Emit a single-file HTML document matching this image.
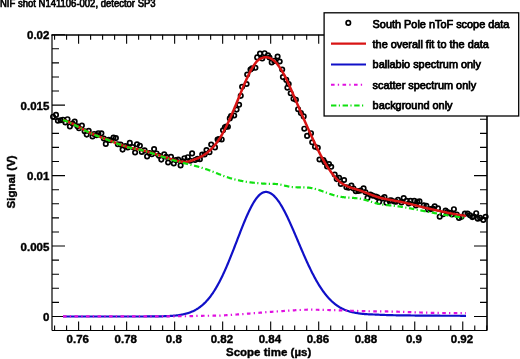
<!DOCTYPE html>
<html><head><meta charset="utf-8"><style>
html,body{margin:0;padding:0;background:#fff;}
svg{display:block;}
text{font-family:"Liberation Sans",Arial,sans-serif;}
</style></head><body>
<svg width="520" height="359" viewBox="0 0 520 359">
<rect width="520" height="359" fill="#fff"/>
<text x="0" y="7.0" font-size="10" textLength="155.6" lengthAdjust="spacingAndGlyphs" fill="#000" stroke="#000" stroke-width="0.65">NIF shot N141106-002, detector SP3</text>
<g fill="none" stroke="#000">
<path d="M52.0,34.8V330.5" stroke-width="1.2"/>
<path d="M52.0,330.5H487.0" stroke-width="1.1"/>
<path d="M487.0,330.5V34.8" stroke-width="1.6"/>
<path d="M51.4,35.0H487.8" stroke-width="1.45"/>
<path d="M54.59,330.5V325.5M54.59,34.8V39.8M66.59,330.5V325.5M66.59,34.8V39.8M78.60,330.5V321.5M78.60,34.8V43.8M90.61,330.5V325.5M90.61,34.8V39.8M102.61,330.5V325.5M102.61,34.8V39.8M114.62,330.5V325.5M114.62,34.8V39.8M126.62,330.5V321.5M126.62,34.8V43.8M138.63,330.5V325.5M138.63,34.8V39.8M150.63,330.5V325.5M150.63,34.8V39.8M162.64,330.5V325.5M162.64,34.8V39.8M174.64,330.5V321.5M174.64,34.8V43.8M186.65,330.5V325.5M186.65,34.8V39.8M198.65,330.5V325.5M198.65,34.8V39.8M210.65,330.5V325.5M210.65,34.8V39.8M222.66,330.5V321.5M222.66,34.8V43.8M234.66,330.5V325.5M234.66,34.8V39.8M246.67,330.5V325.5M246.67,34.8V39.8M258.67,330.5V325.5M258.67,34.8V39.8M270.68,330.5V321.5M270.68,34.8V43.8M282.68,330.5V325.5M282.68,34.8V39.8M294.69,330.5V325.5M294.69,34.8V39.8M306.69,330.5V325.5M306.69,34.8V39.8M318.70,330.5V321.5M318.70,34.8V43.8M330.70,330.5V325.5M330.70,34.8V39.8M342.71,330.5V325.5M342.71,34.8V39.8M354.71,330.5V325.5M354.71,34.8V39.8M366.72,330.5V321.5M366.72,34.8V43.8M378.73,330.5V325.5M378.73,34.8V39.8M390.73,330.5V325.5M390.73,34.8V39.8M402.74,330.5V325.5M402.74,34.8V39.8M414.74,330.5V321.5M414.74,34.8V43.8M426.75,330.5V325.5M426.75,34.8V39.8M438.75,330.5V325.5M438.75,34.8V39.8M450.76,330.5V325.5M450.76,34.8V39.8M462.76,330.5V321.5M462.76,34.8V43.8M474.77,330.5V325.5M474.77,34.8V39.8M486.77,330.5V325.5M486.77,34.8V39.8M52.0,316.50H65.0M487.0,316.50H474.0M52.0,302.41H59.0M487.0,302.41H480.0M52.0,288.32H59.0M487.0,288.32H480.0M52.0,274.23H59.0M487.0,274.23H480.0M52.0,260.14H59.0M487.0,260.14H480.0M52.0,246.05H65.0M487.0,246.05H474.0M52.0,231.96H59.0M487.0,231.96H480.0M52.0,217.87H59.0M487.0,217.87H480.0M52.0,203.78H59.0M487.0,203.78H480.0M52.0,189.69H59.0M487.0,189.69H480.0M52.0,175.60H65.0M487.0,175.60H474.0M52.0,161.51H59.0M487.0,161.51H480.0M52.0,147.42H59.0M487.0,147.42H480.0M52.0,133.33H59.0M487.0,133.33H480.0M52.0,119.24H59.0M487.0,119.24H480.0M52.0,105.15H65.0M487.0,105.15H474.0M52.0,91.06H59.0M487.0,91.06H480.0M52.0,76.97H59.0M487.0,76.97H480.0M52.0,62.88H59.0M487.0,62.88H480.0M52.0,48.79H59.0M487.0,48.79H480.0M52.0,34.70H65.0M487.0,34.70H474.0" stroke-width="1.1"/>
</g>
<g font-size="11.5" font-weight="bold" fill="#000" stroke="#000" stroke-width="0.4"><text x="77.80" y="342.7" text-anchor="middle">0.76</text><text x="125.82" y="342.7" text-anchor="middle">0.78</text><text x="173.84" y="342.7" text-anchor="middle">0.8</text><text x="221.86" y="342.7" text-anchor="middle">0.82</text><text x="269.88" y="342.7" text-anchor="middle">0.84</text><text x="317.90" y="342.7" text-anchor="middle">0.86</text><text x="365.92" y="342.7" text-anchor="middle">0.88</text><text x="413.94" y="342.7" text-anchor="middle">0.9</text><text x="461.96" y="342.7" text-anchor="middle">0.92</text><text x="49.4" y="321.00" text-anchor="end">0</text><text x="49.4" y="250.55" text-anchor="end">0.005</text><text x="49.4" y="180.10" text-anchor="end">0.01</text><text x="49.4" y="109.65" text-anchor="end">0.015</text><text x="49.4" y="39.20" text-anchor="end">0.02</text>
<text x="226" y="355.7">Scope time (µs)</text>
<text transform="translate(15.2,208.4) rotate(-90)">Signal (V)</text>
</g>
<g fill="none" stroke="#000" stroke-width="1.7"><circle cx="53.10" cy="116.70" r="2.2"/><circle cx="56.00" cy="114.90" r="2.2"/><circle cx="57.90" cy="120.70" r="2.2"/><circle cx="60.58" cy="120.26" r="2.2"/><circle cx="62.98" cy="119.72" r="2.2"/><circle cx="65.39" cy="122.40" r="2.2"/><circle cx="67.50" cy="119.20" r="2.2"/><circle cx="69.90" cy="126.40" r="2.2"/><circle cx="72.59" cy="123.60" r="2.2"/><circle cx="74.70" cy="121.60" r="2.2"/><circle cx="77.39" cy="126.32" r="2.2"/><circle cx="79.00" cy="128.30" r="2.2"/><circle cx="81.90" cy="125.50" r="2.2"/><circle cx="84.59" cy="131.21" r="2.2"/><circle cx="86.70" cy="134.60" r="2.2"/><circle cx="88.70" cy="130.80" r="2.2"/><circle cx="92.50" cy="136.50" r="2.2"/><circle cx="94.20" cy="133.96" r="2.2"/><circle cx="96.60" cy="135.15" r="2.2"/><circle cx="98.30" cy="133.20" r="2.2"/><circle cx="101.40" cy="133.30" r="2.2"/><circle cx="103.80" cy="138.43" r="2.2"/><circle cx="105.80" cy="143.90" r="2.2"/><circle cx="108.60" cy="139.88" r="2.2"/><circle cx="111.00" cy="140.21" r="2.2"/><circle cx="113.50" cy="137.60" r="2.2"/><circle cx="115.90" cy="138.10" r="2.2"/><circle cx="117.80" cy="144.30" r="2.2"/><circle cx="120.61" cy="144.58" r="2.2"/><circle cx="122.60" cy="149.60" r="2.2"/><circle cx="125.41" cy="146.10" r="2.2"/><circle cx="127.81" cy="147.49" r="2.2"/><circle cx="129.80" cy="142.90" r="2.2"/><circle cx="132.61" cy="147.08" r="2.2"/><circle cx="135.10" cy="152.50" r="2.2"/><circle cx="137.00" cy="144.30" r="2.2"/><circle cx="139.90" cy="145.80" r="2.2"/><circle cx="141.80" cy="152.00" r="2.2"/><circle cx="144.62" cy="150.36" r="2.2"/><circle cx="147.10" cy="156.40" r="2.2"/><circle cx="149.42" cy="153.06" r="2.2"/><circle cx="151.82" cy="154.30" r="2.2"/><circle cx="154.10" cy="149.10" r="2.2"/><circle cx="156.62" cy="153.47" r="2.2"/><circle cx="159.02" cy="155.75" r="2.2"/><circle cx="161.30" cy="159.60" r="2.2"/><circle cx="164.20" cy="154.30" r="2.2"/><circle cx="166.23" cy="156.81" r="2.2"/><circle cx="168.10" cy="162.50" r="2.2"/><circle cx="171.00" cy="156.80" r="2.2"/><circle cx="173.80" cy="163.50" r="2.2"/><circle cx="175.83" cy="159.94" r="2.2"/><circle cx="178.20" cy="159.60" r="2.2"/><circle cx="180.60" cy="165.40" r="2.2"/><circle cx="183.03" cy="161.22" r="2.2"/><circle cx="184.40" cy="158.20" r="2.2"/><circle cx="187.80" cy="157.20" r="2.2"/><circle cx="190.24" cy="160.73" r="2.2"/><circle cx="192.10" cy="153.40" r="2.2"/><circle cx="195.04" cy="159.94" r="2.2"/><circle cx="197.44" cy="158.84" r="2.2"/><circle cx="199.90" cy="159.20" r="2.2"/><circle cx="202.20" cy="154.50" r="2.2"/><circle cx="204.64" cy="154.52" r="2.2"/><circle cx="206.50" cy="150.00" r="2.2"/><circle cx="209.50" cy="152.20" r="2.2"/><circle cx="211.20" cy="144.50" r="2.2"/><circle cx="215.00" cy="147.40" r="2.2"/><circle cx="217.60" cy="139.60" r="2.2"/><circle cx="219.05" cy="139.08" r="2.2"/><circle cx="221.70" cy="139.50" r="2.2"/><circle cx="223.00" cy="130.30" r="2.2"/><circle cx="224.90" cy="127.20" r="2.2"/><circle cx="226.25" cy="126.50" r="2.2"/><circle cx="227.90" cy="126.70" r="2.2"/><circle cx="229.80" cy="118.40" r="2.2"/><circle cx="231.05" cy="116.03" r="2.2"/><circle cx="234.20" cy="115.50" r="2.2"/><circle cx="236.60" cy="109.60" r="2.2"/><circle cx="239.10" cy="104.80" r="2.2"/><circle cx="240.75" cy="95.85" r="2.2"/><circle cx="242.10" cy="86.80" r="2.2"/><circle cx="246.60" cy="84.00" r="2.2"/><circle cx="247.20" cy="74.50" r="2.2"/><circle cx="250.50" cy="69.50" r="2.2"/><circle cx="252.10" cy="68.20" r="2.2"/><circle cx="255.40" cy="67.80" r="2.2"/><circle cx="257.10" cy="57.40" r="2.2"/><circle cx="260.00" cy="53.60" r="2.2"/><circle cx="262.27" cy="58.53" r="2.2"/><circle cx="264.60" cy="53.20" r="2.2"/><circle cx="268.00" cy="55.30" r="2.2"/><circle cx="269.47" cy="57.48" r="2.2"/><circle cx="271.70" cy="62.40" r="2.2"/><circle cx="274.27" cy="60.90" r="2.2"/><circle cx="277.60" cy="56.50" r="2.2"/><circle cx="279.70" cy="61.50" r="2.2"/><circle cx="282.20" cy="69.50" r="2.2"/><circle cx="282.90" cy="77.10" r="2.2"/><circle cx="286.30" cy="79.90" r="2.2"/><circle cx="287.40" cy="87.70" r="2.2"/><circle cx="288.68" cy="84.05" r="2.2"/><circle cx="290.70" cy="93.30" r="2.2"/><circle cx="293.50" cy="98.80" r="2.2"/><circle cx="295.90" cy="99.70" r="2.2"/><circle cx="298.10" cy="109.20" r="2.2"/><circle cx="300.90" cy="113.10" r="2.2"/><circle cx="303.70" cy="116.40" r="2.2"/><circle cx="304.30" cy="128.70" r="2.2"/><circle cx="307.10" cy="135.90" r="2.2"/><circle cx="311.00" cy="133.20" r="2.2"/><circle cx="312.20" cy="142.30" r="2.2"/><circle cx="315.00" cy="146.70" r="2.2"/><circle cx="317.80" cy="147.80" r="2.2"/><circle cx="319.50" cy="159.50" r="2.2"/><circle cx="323.40" cy="160.10" r="2.2"/><circle cx="324.69" cy="162.29" r="2.2"/><circle cx="327.09" cy="166.41" r="2.2"/><circle cx="329.00" cy="164.00" r="2.2"/><circle cx="331.20" cy="166.80" r="2.2"/><circle cx="334.70" cy="174.50" r="2.2"/><circle cx="336.70" cy="179.08" r="2.2"/><circle cx="339.10" cy="177.80" r="2.2"/><circle cx="340.80" cy="184.00" r="2.2"/><circle cx="344.10" cy="180.00" r="2.2"/><circle cx="346.40" cy="187.30" r="2.2"/><circle cx="348.70" cy="187.81" r="2.2"/><circle cx="351.40" cy="185.60" r="2.2"/><circle cx="353.50" cy="188.45" r="2.2"/><circle cx="355.80" cy="191.20" r="2.2"/><circle cx="358.31" cy="191.06" r="2.2"/><circle cx="360.71" cy="190.52" r="2.2"/><circle cx="363.60" cy="188.40" r="2.2"/><circle cx="365.51" cy="192.20" r="2.2"/><circle cx="367.50" cy="197.90" r="2.2"/><circle cx="370.31" cy="194.50" r="2.2"/><circle cx="372.50" cy="195.60" r="2.2"/><circle cx="375.80" cy="196.50" r="2.2"/><circle cx="377.51" cy="197.24" r="2.2"/><circle cx="379.20" cy="201.80" r="2.2"/><circle cx="382.32" cy="198.49" r="2.2"/><circle cx="384.50" cy="197.00" r="2.2"/><circle cx="386.40" cy="202.80" r="2.2"/><circle cx="389.52" cy="200.67" r="2.2"/><circle cx="391.20" cy="200.40" r="2.2"/><circle cx="394.32" cy="201.49" r="2.2"/><circle cx="396.00" cy="201.80" r="2.2"/><circle cx="398.00" cy="199.90" r="2.2"/><circle cx="401.52" cy="202.41" r="2.2"/><circle cx="403.70" cy="198.00" r="2.2"/><circle cx="406.60" cy="200.90" r="2.2"/><circle cx="408.73" cy="203.43" r="2.2"/><circle cx="410.50" cy="200.90" r="2.2"/><circle cx="414.30" cy="200.90" r="2.2"/><circle cx="415.93" cy="205.39" r="2.2"/><circle cx="417.20" cy="201.80" r="2.2"/><circle cx="419.50" cy="201.30" r="2.2"/><circle cx="423.80" cy="205.40" r="2.2"/><circle cx="426.40" cy="205.90" r="2.2"/><circle cx="427.94" cy="209.43" r="2.2"/><circle cx="430.34" cy="209.15" r="2.2"/><circle cx="432.74" cy="208.60" r="2.2"/><circle cx="434.70" cy="206.30" r="2.2"/><circle cx="438.00" cy="208.40" r="2.2"/><circle cx="439.70" cy="216.70" r="2.2"/><circle cx="443.10" cy="214.20" r="2.2"/><circle cx="445.60" cy="210.50" r="2.2"/><circle cx="447.14" cy="212.16" r="2.2"/><circle cx="449.54" cy="212.73" r="2.2"/><circle cx="451.95" cy="214.42" r="2.2"/><circle cx="453.90" cy="209.20" r="2.2"/><circle cx="456.75" cy="214.43" r="2.2"/><circle cx="459.00" cy="217.90" r="2.2"/><circle cx="461.55" cy="216.87" r="2.2"/><circle cx="464.90" cy="213.60" r="2.2"/><circle cx="467.60" cy="213.60" r="2.2"/><circle cx="470.00" cy="215.20" r="2.2"/><circle cx="472.30" cy="217.10" r="2.2"/><circle cx="473.55" cy="216.47" r="2.2"/><circle cx="476.20" cy="213.20" r="2.2"/><circle cx="477.80" cy="218.70" r="2.2"/><circle cx="480.10" cy="217.90" r="2.2"/><circle cx="483.30" cy="219.90" r="2.2"/><circle cx="485.60" cy="216.80" r="2.2"/></g>
<g fill="none" stroke-width="2.2" stroke-linejoin="round">
<path d="M63.00,119.95 L63.50,120.09 L64.00,120.25 L64.50,120.40 L65.00,120.57 L65.50,120.74 L66.00,120.92 L66.50,121.11 L67.00,121.30 L67.50,121.50 L68.00,121.70 L68.50,121.91 L69.00,122.12 L69.50,122.34 L70.00,122.56 L70.50,122.79 L71.00,123.02 L71.50,123.25 L72.00,123.49 L72.50,123.73 L73.00,123.98 L73.50,124.23 L74.00,124.48 L74.50,124.73 L75.00,124.99 L75.50,125.25 L76.00,125.51 L76.50,125.77 L77.00,126.04 L77.50,126.31 L78.00,126.57 L78.50,126.84 L79.00,127.11 L79.50,127.38 L80.00,127.65 L80.50,127.92 L81.00,128.19 L81.50,128.46 L82.00,128.73 L82.50,128.99 L83.00,129.26 L83.50,129.53 L84.00,129.79 L84.50,130.05 L85.00,130.31 L85.50,130.57 L86.00,130.83 L86.50,131.08 L87.00,131.33 L87.50,131.58 L88.00,131.83 L88.50,132.07 L89.00,132.31 L89.50,132.54 L90.00,132.77 L90.50,133.00 L91.00,133.22 L91.50,133.44 L92.00,133.66 L92.50,133.88 L93.00,134.09 L93.50,134.30 L94.00,134.51 L94.50,134.72 L95.00,134.92 L95.50,135.12 L96.00,135.32 L96.50,135.52 L97.00,135.72 L97.50,135.92 L98.00,136.11 L98.50,136.30 L99.00,136.49 L99.50,136.68 L100.00,136.87 L100.50,137.06 L101.00,137.25 L101.50,137.44 L102.00,137.63 L102.50,137.81 L103.00,138.00 L103.50,138.19 L104.00,138.37 L104.50,138.56 L105.00,138.75 L105.50,138.93 L106.00,139.12 L106.50,139.31 L107.00,139.50 L107.50,139.69 L108.00,139.88 L108.50,140.08 L109.00,140.27 L109.50,140.46 L110.00,140.66 L110.50,140.85 L111.00,141.05 L111.50,141.24 L112.00,141.44 L112.50,141.64 L113.00,141.83 L113.50,142.03 L114.00,142.22 L114.50,142.42 L115.00,142.61 L115.50,142.81 L116.00,143.00 L116.50,143.19 L117.00,143.38 L117.50,143.57 L118.00,143.76 L118.50,143.95 L119.00,144.13 L119.50,144.32 L120.00,144.50 L120.50,144.68 L121.00,144.86 L121.50,145.04 L122.00,145.22 L122.50,145.39 L123.00,145.56 L123.50,145.73 L124.00,145.90 L124.50,146.06 L125.00,146.22 L125.50,146.38 L126.00,146.53 L126.50,146.68 L127.00,146.83 L127.50,146.98 L128.00,147.12 L128.50,147.26 L129.00,147.39 L129.50,147.52 L130.00,147.65 L130.50,147.77 L131.00,147.89 L131.50,148.01 L132.00,148.12 L132.50,148.22 L133.00,148.33 L133.50,148.43 L134.00,148.53 L134.50,148.62 L135.00,148.72 L135.50,148.81 L136.00,148.91 L136.50,149.00 L137.00,149.10 L137.50,149.19 L138.00,149.29 L138.50,149.39 L139.00,149.49 L139.50,149.60 L140.00,149.71 L140.50,149.82 L141.00,149.93 L141.50,150.05 L142.00,150.17 L142.50,150.30 L143.00,150.42 L143.50,150.55 L144.00,150.68 L144.50,150.82 L145.00,150.96 L145.50,151.09 L146.00,151.24 L146.50,151.38 L147.00,151.53 L147.50,151.67 L148.00,151.82 L148.50,151.97 L149.00,152.13 L149.50,152.28 L150.00,152.43 L150.50,152.59 L151.00,152.74 L151.50,152.90 L152.00,153.06 L152.50,153.22 L153.00,153.38 L153.50,153.53 L154.00,153.69 L154.50,153.85 L155.00,154.01 L155.50,154.17 L156.00,154.33 L156.50,154.49 L157.00,154.65 L157.50,154.81 L158.00,154.97 L158.50,155.13 L159.00,155.29 L159.50,155.45 L160.00,155.61 L160.50,155.76 L161.00,155.92 L161.50,156.08 L162.00,156.23 L162.50,156.38 L163.00,156.54 L163.50,156.69 L164.00,156.84 L164.50,156.99 L165.00,157.14 L165.50,157.28 L166.00,157.43 L166.50,157.57 L167.00,157.71 L167.50,157.85 L168.00,157.99 L168.50,158.17 L169.00,158.35 L169.50,158.53 L170.00,158.71 L170.50,158.88 L171.00,159.06 L171.50,159.22 L172.00,159.39 L172.50,159.55 L173.00,159.71 L173.50,159.87 L174.00,160.02 L174.50,160.17 L175.00,160.31 L175.50,160.45 L176.00,160.59 L176.50,160.72 L177.00,160.85 L177.50,160.97 L178.00,161.09 L178.50,161.18 L179.00,161.27 L179.50,161.36 L180.00,161.44 L180.50,161.52 L181.00,161.59 L181.50,161.66 L182.00,161.72 L182.50,161.77 L183.00,161.83 L183.50,161.87 L184.00,161.91 L184.50,161.95 L185.00,161.98 L185.50,162.01 L186.00,162.02 L186.50,161.93 L187.00,161.84 L187.50,161.73 L188.00,161.62 L188.50,161.50 L189.00,161.37 L189.50,161.24 L190.00,161.09 L190.50,160.94 L191.00,160.79 L191.50,160.62 L192.00,160.45 L192.50,160.27 L193.00,160.08 L193.50,159.89 L194.00,159.69 L194.50,159.48 L195.00,159.26 L195.50,159.09 L196.00,158.91 L196.50,158.72 L197.00,158.52 L197.50,158.32 L198.00,158.11 L198.50,157.89 L199.00,157.67 L199.50,157.43 L200.00,157.19 L200.50,156.94 L201.00,156.68 L201.50,156.41 L202.00,156.14 L202.50,155.85 L203.00,155.55 L203.50,155.23 L204.00,154.91 L204.50,154.58 L205.00,154.23 L205.50,153.89 L206.00,153.54 L206.50,153.17 L207.00,152.79 L207.50,152.40 L208.00,151.99 L208.50,151.58 L209.00,151.15 L209.50,150.70 L210.00,150.24 L210.50,149.77 L211.00,149.29 L211.50,148.79 L212.00,148.28 L212.50,147.75 L213.00,147.21 L213.50,146.65 L214.00,146.08 L214.50,145.49 L215.00,144.88 L215.50,144.26 L216.00,143.63 L216.50,142.97 L217.00,142.30 L217.50,141.60 L218.00,140.89 L218.50,140.16 L219.00,139.41 L219.50,138.64 L220.00,137.86 L220.50,137.05 L221.00,136.23 L221.50,135.39 L222.00,134.53 L222.50,133.65 L223.00,132.75 L223.50,131.84 L224.00,130.91 L224.50,129.96 L225.00,128.99 L225.50,128.00 L226.00,127.00 L226.50,125.99 L227.00,124.96 L227.50,123.91 L228.00,122.85 L228.50,121.78 L229.00,120.69 L229.50,119.59 L230.00,118.48 L230.50,117.36 L231.00,116.22 L231.50,115.08 L232.00,113.93 L232.50,112.76 L233.00,111.59 L233.50,110.41 L234.00,109.22 L234.50,108.02 L235.00,106.82 L235.50,105.61 L236.00,104.40 L236.50,103.18 L237.00,101.96 L237.50,100.74 L238.00,99.52 L238.50,98.29 L239.00,97.07 L239.50,95.84 L240.00,94.62 L240.50,93.41 L241.00,92.19 L241.50,90.98 L242.00,89.78 L242.50,88.58 L243.00,87.39 L243.50,86.21 L244.00,85.04 L244.50,83.87 L245.00,82.72 L245.50,81.58 L246.00,80.46 L246.50,79.35 L247.00,78.25 L247.50,77.17 L248.00,76.10 L248.50,75.05 L249.00,74.02 L249.50,73.01 L250.00,72.02 L250.50,71.08 L251.00,70.17 L251.50,69.28 L252.00,68.41 L252.50,67.56 L253.00,66.74 L253.50,65.95 L254.00,65.18 L254.50,64.44 L255.00,63.72 L255.50,63.04 L256.00,62.38 L256.50,61.76 L257.00,61.16 L257.50,60.71 L258.00,60.29 L258.50,59.90 L259.00,59.54 L259.50,59.22 L260.00,58.93 L260.50,58.67 L261.00,58.45 L261.50,58.26 L262.00,58.10 L262.50,57.86 L263.00,57.66 L263.50,57.49 L264.00,57.35 L264.50,57.25 L265.00,57.19 L265.50,57.16 L266.00,57.16 L266.50,57.20 L267.00,57.27 L267.50,57.36 L268.00,57.49 L268.50,57.61 L269.00,57.76 L269.50,57.93 L270.00,58.14 L270.50,58.38 L271.00,58.65 L271.50,58.94 L272.00,59.27 L272.50,59.57 L273.00,59.91 L273.50,60.27 L274.00,60.67 L274.50,61.10 L275.00,61.56 L275.50,62.06 L276.00,62.58 L276.50,63.14 L277.00,63.74 L277.50,64.37 L278.00,65.02 L278.50,65.71 L279.00,66.43 L279.50,67.18 L280.00,67.95 L280.50,68.69 L281.00,69.46 L281.50,70.25 L282.00,71.07 L282.50,71.91 L283.00,72.76 L283.50,73.64 L284.00,74.54 L284.50,75.46 L285.00,76.39 L285.50,77.40 L286.00,78.43 L286.50,79.47 L287.00,80.52 L287.50,81.58 L288.00,82.65 L288.50,83.74 L289.00,84.83 L289.50,85.92 L290.00,87.03 L290.50,88.18 L291.00,89.34 L291.50,90.50 L292.00,91.66 L292.50,92.82 L293.00,93.98 L293.50,95.15 L294.00,96.31 L294.50,97.47 L295.00,98.64 L295.50,99.80 L296.00,100.96 L296.50,102.12 L297.00,103.28 L297.50,104.44 L298.00,105.60 L298.50,106.76 L299.00,107.92 L299.50,109.08 L300.00,110.23 L300.50,111.39 L301.00,112.54 L301.50,113.69 L302.00,114.83 L302.50,115.97 L303.00,117.11 L303.50,118.25 L304.00,119.39 L304.50,120.52 L305.00,121.65 L305.50,122.78 L306.00,123.91 L306.50,125.04 L307.00,126.16 L307.50,127.28 L308.00,128.41 L308.50,129.53 L309.00,130.65 L309.50,131.76 L310.00,132.88 L310.50,133.98 L311.00,135.09 L311.50,136.19 L312.00,137.28 L312.50,138.37 L313.00,139.46 L313.50,140.53 L314.00,141.61 L314.50,142.67 L315.00,143.73 L315.50,144.79 L316.00,145.83 L316.50,146.87 L317.00,147.89 L317.50,148.91 L318.00,149.92 L318.50,150.92 L319.00,151.91 L319.50,152.89 L320.00,153.86 L320.50,154.81 L321.00,155.74 L321.50,156.67 L322.00,157.59 L322.50,158.49 L323.00,159.39 L323.50,160.27 L324.00,161.14 L324.50,162.00 L325.00,162.84 L325.50,163.67 L326.00,164.49 L326.50,165.30 L327.00,166.09 L327.50,166.87 L328.00,167.63 L328.50,168.38 L329.00,169.12 L329.50,169.84 L330.00,170.55 L330.50,171.27 L331.00,171.97 L331.50,172.66 L332.00,173.34 L332.50,174.00 L333.00,174.64 L333.50,175.27 L334.00,175.89 L334.50,176.49 L335.00,177.07 L335.50,177.64 L336.00,178.20 L336.50,178.73 L337.00,179.26 L337.50,179.77 L338.00,180.26 L338.50,180.73 L339.00,181.19 L339.50,181.64 L340.00,182.07 L340.50,182.44 L341.00,182.80 L341.50,183.15 L342.00,183.48 L342.50,183.80 L343.00,184.10 L343.50,184.40 L344.00,184.68 L344.50,184.96 L345.00,185.22 L345.50,185.47 L346.00,185.71 L346.50,185.95 L347.00,186.17 L347.50,186.39 L348.00,186.59 L348.50,186.80 L349.00,186.99 L349.50,187.18 L350.00,187.36 L350.50,187.54 L351.00,187.71 L351.50,187.88 L352.00,188.04 L352.50,188.20 L353.00,188.35 L353.50,188.50 L354.00,188.65 L354.50,188.80 L355.00,188.95 L355.50,189.10 L356.00,189.26 L356.50,189.41 L357.00,189.56 L357.50,189.72 L358.00,189.87 L358.50,190.02 L359.00,190.18 L359.50,190.33 L360.00,190.49 L360.50,190.66 L361.00,190.84 L361.50,191.02 L362.00,191.20 L362.50,191.38 L363.00,191.56 L363.50,191.75 L364.00,191.94 L364.50,192.14 L365.00,192.33 L365.50,192.53 L366.00,192.72 L366.50,192.92 L367.00,193.12 L367.50,193.32 L368.00,193.52 L368.50,193.72 L369.00,193.92 L369.50,194.11 L370.00,194.31 L370.50,194.50 L371.00,194.70 L371.50,194.89 L372.00,195.07 L372.50,195.26 L373.00,195.44 L373.50,195.62 L374.00,195.79 L374.50,195.97 L375.00,196.13 L375.50,196.31 L376.00,196.49 L376.50,196.66 L377.00,196.83 L377.50,196.99 L378.00,197.14 L378.50,197.29 L379.00,197.43 L379.50,197.56 L380.00,197.69 L380.50,197.83 L381.00,197.97 L381.50,198.10 L382.00,198.22 L382.50,198.34 L383.00,198.46 L383.50,198.57 L384.00,198.68 L384.50,198.79 L385.00,198.90 L385.50,199.00 L386.00,199.10 L386.50,199.20 L387.00,199.29 L387.50,199.39 L388.00,199.48 L388.50,199.57 L389.00,199.67 L389.50,199.76 L390.00,199.85 L390.50,199.94 L391.00,200.04 L391.50,200.13 L392.00,200.23 L392.50,200.32 L393.00,200.42 L393.50,200.52 L394.00,200.62 L394.50,200.73 L395.00,200.83 L395.50,200.92 L396.00,201.00 L396.50,201.09 L397.00,201.18 L397.50,201.27 L398.00,201.36 L398.50,201.46 L399.00,201.56 L399.50,201.65 L400.00,201.75 L400.50,201.85 L401.00,201.96 L401.50,202.06 L402.00,202.16 L402.50,202.27 L403.00,202.38 L403.50,202.49 L404.00,202.59 L404.50,202.71 L405.00,202.82 L405.50,202.93 L406.00,203.04 L406.50,203.15 L407.00,203.27 L407.50,203.38 L408.00,203.50 L408.50,203.61 L409.00,203.73 L409.50,203.84 L410.00,203.96 L410.50,204.08 L411.00,204.21 L411.50,204.33 L412.00,204.46 L412.50,204.59 L413.00,204.71 L413.50,204.84 L414.00,204.97 L414.50,205.10 L415.00,205.22 L415.50,205.35 L416.00,205.48 L416.50,205.61 L417.00,205.74 L417.50,205.86 L418.00,205.99 L418.50,206.12 L419.00,206.24 L419.50,206.37 L420.00,206.50 L420.50,206.62 L421.00,206.75 L421.50,206.88 L422.00,207.00 L422.50,207.13 L423.00,207.25 L423.50,207.37 L424.00,207.50 L424.50,207.62 L425.00,207.74 L425.50,207.86 L426.00,207.98 L426.50,208.10 L427.00,208.22 L427.50,208.34 L428.00,208.45 L428.50,208.57 L429.00,208.68 L429.50,208.80 L430.00,208.92 L430.50,209.03 L431.00,209.14 L431.50,209.25 L432.00,209.36 L432.50,209.47 L433.00,209.58 L433.50,209.69 L434.00,209.80 L434.50,209.91 L435.00,210.01 L435.50,210.12 L436.00,210.23 L436.50,210.34 L437.00,210.44 L437.50,210.55 L438.00,210.65 L438.50,210.76 L439.00,210.86 L439.50,210.96 L440.00,211.07 L440.50,211.18 L441.00,211.30 L441.50,211.41 L442.00,211.52 L442.50,211.64 L443.00,211.75 L443.50,211.86 L444.00,211.97 L444.50,212.08 L445.00,212.18 L445.50,212.29 L446.00,212.40 L446.50,212.50 L447.00,212.61 L447.50,212.71 L448.00,212.82 L448.50,212.92 L449.00,213.02 L449.50,213.12 L450.00,213.22 L450.50,213.32 L451.00,213.43 L451.50,213.52 L452.00,213.62 L452.50,213.72 L453.00,213.82 L453.50,213.92 L454.00,214.02 L454.50,214.11 L455.00,214.21 L455.50,214.29 L456.00,214.38 L456.50,214.47 L457.00,214.55 L457.50,214.63 L458.00,214.72 L458.50,214.80 L459.00,214.88 L459.50,214.96 L460.00,215.05 L460.50,215.13 L461.00,215.20 L461.50,215.28 L462.00,215.36 L462.50,215.44 L463.00,215.51 L463.50,215.59 L464.00,215.67 L464.50,215.74 L465.00,215.81 L465.50,215.89 L466.00,215.96" stroke="#d81414" stroke-width="2.5"/>
<path d="M63.00,316.50 L63.50,316.50 L64.00,316.50 L64.50,316.50 L65.00,316.50 L65.50,316.50 L66.00,316.50 L66.50,316.50 L67.00,316.50 L67.50,316.50 L68.00,316.50 L68.50,316.50 L69.00,316.50 L69.50,316.50 L70.00,316.50 L70.50,316.50 L71.00,316.50 L71.50,316.50 L72.00,316.50 L72.50,316.50 L73.00,316.50 L73.50,316.50 L74.00,316.50 L74.50,316.50 L75.00,316.50 L75.50,316.50 L76.00,316.50 L76.50,316.50 L77.00,316.50 L77.50,316.50 L78.00,316.50 L78.50,316.50 L79.00,316.50 L79.50,316.50 L80.00,316.50 L80.50,316.50 L81.00,316.50 L81.50,316.50 L82.00,316.50 L82.50,316.50 L83.00,316.50 L83.50,316.50 L84.00,316.50 L84.50,316.50 L85.00,316.50 L85.50,316.50 L86.00,316.50 L86.50,316.50 L87.00,316.50 L87.50,316.50 L88.00,316.50 L88.50,316.50 L89.00,316.50 L89.50,316.50 L90.00,316.50 L90.50,316.50 L91.00,316.50 L91.50,316.50 L92.00,316.50 L92.50,316.50 L93.00,316.50 L93.50,316.50 L94.00,316.50 L94.50,316.50 L95.00,316.50 L95.50,316.50 L96.00,316.50 L96.50,316.50 L97.00,316.50 L97.50,316.50 L98.00,316.50 L98.50,316.50 L99.00,316.50 L99.50,316.50 L100.00,316.50 L100.50,316.50 L101.00,316.50 L101.50,316.50 L102.00,316.50 L102.50,316.50 L103.00,316.50 L103.50,316.50 L104.00,316.50 L104.50,316.50 L105.00,316.50 L105.50,316.50 L106.00,316.50 L106.50,316.50 L107.00,316.50 L107.50,316.50 L108.00,316.50 L108.50,316.50 L109.00,316.50 L109.50,316.50 L110.00,316.50 L110.50,316.50 L111.00,316.50 L111.50,316.50 L112.00,316.50 L112.50,316.50 L113.00,316.50 L113.50,316.50 L114.00,316.50 L114.50,316.50 L115.00,316.50 L115.50,316.50 L116.00,316.50 L116.50,316.50 L117.00,316.50 L117.50,316.50 L118.00,316.50 L118.50,316.50 L119.00,316.50 L119.50,316.50 L120.00,316.50 L120.50,316.50 L121.00,316.50 L121.50,316.50 L122.00,316.50 L122.50,316.50 L123.00,316.50 L123.50,316.50 L124.00,316.50 L124.50,316.50 L125.00,316.50 L125.50,316.50 L126.00,316.50 L126.50,316.50 L127.00,316.50 L127.50,316.50 L128.00,316.50 L128.50,316.50 L129.00,316.50 L129.50,316.50 L130.00,316.50 L130.50,316.50 L131.00,316.50 L131.50,316.50 L132.00,316.50 L132.50,316.50 L133.00,316.50 L133.50,316.50 L134.00,316.50 L134.50,316.50 L135.00,316.50 L135.50,316.49 L136.00,316.49 L136.50,316.49 L137.00,316.49 L137.50,316.49 L138.00,316.49 L138.50,316.49 L139.00,316.49 L139.50,316.49 L140.00,316.49 L140.50,316.49 L141.00,316.49 L141.50,316.49 L142.00,316.49 L142.50,316.49 L143.00,316.48 L143.50,316.48 L144.00,316.48 L144.50,316.48 L145.00,316.48 L145.50,316.48 L146.00,316.48 L146.50,316.47 L147.00,316.47 L147.50,316.47 L148.00,316.47 L148.50,316.46 L149.00,316.46 L149.50,316.46 L150.00,316.46 L150.50,316.45 L151.00,316.45 L151.50,316.45 L152.00,316.44 L152.50,316.44 L153.00,316.44 L153.50,316.43 L154.00,316.43 L154.50,316.42 L155.00,316.42 L155.50,316.41 L156.00,316.40 L156.50,316.40 L157.00,316.39 L157.50,316.38 L158.00,316.37 L158.50,316.37 L159.00,316.36 L159.50,316.35 L160.00,316.34 L160.50,316.33 L161.00,316.32 L161.50,316.31 L162.00,316.29 L162.50,316.28 L163.00,316.27 L163.50,316.25 L164.00,316.24 L164.50,316.22 L165.00,316.20 L165.50,316.18 L166.00,316.16 L166.50,316.14 L167.00,316.12 L167.50,316.10 L168.00,316.08 L168.50,316.05 L169.00,316.02 L169.50,316.00 L170.00,315.97 L170.50,315.94 L171.00,315.90 L171.50,315.87 L172.00,315.83 L172.50,315.79 L173.00,315.75 L173.50,315.71 L174.00,315.67 L174.50,315.62 L175.00,315.57 L175.50,315.52 L176.00,315.47 L176.50,315.41 L177.00,315.35 L177.50,315.29 L178.00,315.22 L178.50,315.16 L179.00,315.08 L179.50,315.01 L180.00,314.93 L180.50,314.85 L181.00,314.76 L181.50,314.67 L182.00,314.58 L182.50,314.48 L183.00,314.38 L183.50,314.28 L184.00,314.16 L184.50,314.05 L185.00,313.93 L185.50,313.80 L186.00,313.67 L186.50,313.53 L187.00,313.39 L187.50,313.24 L188.00,313.09 L188.50,312.93 L189.00,312.76 L189.50,312.59 L190.00,312.41 L190.50,312.22 L191.00,312.02 L191.50,311.82 L192.00,311.61 L192.50,311.39 L193.00,311.16 L193.50,310.93 L194.00,310.69 L194.50,310.43 L195.00,310.17 L195.50,309.90 L196.00,309.62 L196.50,309.33 L197.00,309.03 L197.50,308.72 L198.00,308.40 L198.50,308.07 L199.00,307.72 L199.50,307.37 L200.00,307.01 L200.50,306.63 L201.00,306.24 L201.50,305.84 L202.00,305.43 L202.50,305.00 L203.00,304.56 L203.50,304.11 L204.00,303.64 L204.50,303.16 L205.00,302.67 L205.50,302.17 L206.00,301.65 L206.50,301.11 L207.00,300.56 L207.50,300.00 L208.00,299.42 L208.50,298.82 L209.00,298.21 L209.50,297.59 L210.00,296.95 L210.50,296.29 L211.00,295.62 L211.50,294.93 L212.00,294.23 L212.50,293.51 L213.00,292.78 L213.50,292.02 L214.00,291.25 L214.50,290.47 L215.00,289.67 L215.50,288.85 L216.00,288.01 L216.50,287.16 L217.00,286.30 L217.50,285.41 L218.00,284.51 L218.50,283.59 L219.00,282.66 L219.50,281.71 L220.00,280.75 L220.50,279.77 L221.00,278.77 L221.50,277.76 L222.00,276.73 L222.50,275.69 L223.00,274.63 L223.50,273.56 L224.00,272.47 L224.50,271.37 L225.00,270.26 L225.50,269.13 L226.00,267.99 L226.50,266.83 L227.00,265.67 L227.50,264.49 L228.00,263.30 L228.50,262.10 L229.00,260.89 L229.50,259.67 L230.00,258.43 L230.50,257.19 L231.00,255.95 L231.50,254.69 L232.00,253.42 L232.50,252.15 L233.00,250.88 L233.50,249.59 L234.00,248.31 L234.50,247.02 L235.00,245.72 L235.50,244.42 L236.00,243.12 L236.50,241.82 L237.00,240.52 L237.50,239.22 L238.00,237.92 L238.50,236.62 L239.00,235.33 L239.50,234.03 L240.00,232.75 L240.50,231.46 L241.00,230.19 L241.50,228.92 L242.00,227.65 L242.50,226.40 L243.00,225.16 L243.50,223.92 L244.00,222.70 L244.50,221.49 L245.00,220.29 L245.50,219.11 L246.00,217.94 L246.50,216.78 L247.00,215.64 L247.50,214.52 L248.00,213.42 L248.50,212.34 L249.00,211.28 L249.50,210.23 L250.00,209.21 L250.50,208.21 L251.00,207.24 L251.50,206.28 L252.00,205.36 L252.50,204.46 L253.00,203.58 L253.50,202.73 L254.00,201.91 L254.50,201.12 L255.00,200.35 L255.50,199.62 L256.00,198.92 L256.50,198.24 L257.00,197.60 L257.50,196.99 L258.00,196.41 L258.50,195.87 L259.00,195.36 L259.50,194.88 L260.00,194.44 L260.50,194.03 L261.00,193.66 L261.50,193.32 L262.00,193.02 L262.50,192.76 L263.00,192.53 L263.50,192.33 L264.00,192.18 L264.50,192.06 L265.00,191.98 L265.50,191.93 L266.00,191.92 L266.50,191.94 L267.00,192.00 L267.50,192.08 L268.00,192.20 L268.50,192.34 L269.00,192.51 L269.50,192.72 L270.00,192.95 L270.50,193.22 L271.00,193.51 L271.50,193.83 L272.00,194.18 L272.50,194.56 L273.00,194.97 L273.50,195.41 L274.00,195.87 L274.50,196.37 L275.00,196.89 L275.50,197.43 L276.00,198.00 L276.50,198.60 L277.00,199.23 L277.50,199.88 L278.00,200.55 L278.50,201.25 L279.00,201.97 L279.50,202.72 L280.00,203.49 L280.50,204.28 L281.00,205.09 L281.50,205.92 L282.00,206.77 L282.50,207.65 L283.00,208.54 L283.50,209.45 L284.00,210.38 L284.50,211.33 L285.00,212.29 L285.50,213.27 L286.00,214.27 L286.50,215.28 L287.00,216.31 L287.50,217.35 L288.00,218.40 L288.50,219.47 L289.00,220.54 L289.50,221.63 L290.00,222.73 L290.50,223.84 L291.00,224.96 L291.50,226.09 L292.00,227.22 L292.50,228.36 L293.00,229.51 L293.50,230.67 L294.00,231.83 L294.50,232.99 L295.00,234.16 L295.50,235.33 L296.00,236.51 L296.50,237.68 L297.00,238.86 L297.50,240.04 L298.00,241.22 L298.50,242.40 L299.00,243.58 L299.50,244.76 L300.00,245.94 L300.50,247.11 L301.00,248.28 L301.50,249.45 L302.00,250.61 L302.50,251.77 L303.00,252.93 L303.50,254.08 L304.00,255.22 L304.50,256.36 L305.00,257.49 L305.50,258.61 L306.00,259.72 L306.50,260.83 L307.00,261.93 L307.50,263.02 L308.00,264.10 L308.50,265.18 L309.00,266.24 L309.50,267.29 L310.00,268.33 L310.50,269.37 L311.00,270.39 L311.50,271.40 L312.00,272.40 L312.50,273.38 L313.00,274.36 L313.50,275.32 L314.00,276.27 L314.50,277.21 L315.00,278.14 L315.50,279.05 L316.00,279.95 L316.50,280.84 L317.00,281.71 L317.50,282.57 L318.00,283.42 L318.50,284.26 L319.00,285.08 L319.50,285.89 L320.00,286.68 L320.50,287.45 L321.00,288.20 L321.50,288.95 L322.00,289.67 L322.50,290.39 L323.00,291.09 L323.50,291.77 L324.00,292.45 L324.50,293.11 L325.00,293.76 L325.50,294.39 L326.00,295.01 L326.50,295.62 L327.00,296.21 L327.50,296.79 L328.00,297.36 L328.50,297.92 L329.00,298.46 L329.50,298.99 L330.00,299.51 L330.50,300.01 L331.00,300.50 L331.50,300.99 L332.00,301.45 L332.50,301.91 L333.00,302.36 L333.50,302.79 L334.00,303.22 L334.50,303.63 L335.00,304.03 L335.50,304.42 L336.00,304.80 L336.50,305.17 L337.00,305.53 L337.50,305.87 L338.00,306.21 L338.50,306.54 L339.00,306.86 L339.50,307.17 L340.00,307.47 L340.50,307.75 L341.00,308.02 L341.50,308.29 L342.00,308.54 L342.50,308.79 L343.00,309.03 L343.50,309.26 L344.00,309.48 L344.50,309.69 L345.00,309.90 L345.50,310.10 L346.00,310.29 L346.50,310.48 L347.00,310.66 L347.50,310.83 L348.00,310.99 L348.50,311.15 L349.00,311.31 L349.50,311.45 L350.00,311.59 L350.50,311.73 L351.00,311.86 L351.50,311.98 L352.00,312.10 L352.50,312.22 L353.00,312.33 L353.50,312.43 L354.00,312.53 L354.50,312.63 L355.00,312.72 L355.50,312.82 L356.00,312.91 L356.50,313.01 L357.00,313.09 L357.50,313.18 L358.00,313.26 L358.50,313.34 L359.00,313.41 L359.50,313.48 L360.00,313.55 L360.50,313.61 L361.00,313.67 L361.50,313.73 L362.00,313.79 L362.50,313.84 L363.00,313.89 L363.50,313.94 L364.00,313.99 L364.50,314.03 L365.00,314.07 L365.50,314.11 L366.00,314.15 L366.50,314.18 L367.00,314.21 L367.50,314.24 L368.00,314.27 L368.50,314.30 L369.00,314.33 L369.50,314.35 L370.00,314.37 L370.50,314.39 L371.00,314.41 L371.50,314.43 L372.00,314.45 L372.50,314.46 L373.00,314.48 L373.50,314.49 L374.00,314.51 L374.50,314.52 L375.00,314.53 L375.50,314.56 L376.00,314.58 L376.50,314.61 L377.00,314.64 L377.50,314.67 L378.00,314.69 L378.50,314.71 L379.00,314.74 L379.50,314.76 L380.00,314.78 L380.50,314.81 L381.00,314.83 L381.50,314.85 L382.00,314.87 L382.50,314.89 L383.00,314.91 L383.50,314.92 L384.00,314.94 L384.50,314.96 L385.00,314.98 L385.50,314.99 L386.00,315.01 L386.50,315.03 L387.00,315.04 L387.50,315.06 L388.00,315.07 L388.50,315.09 L389.00,315.10 L389.50,315.12 L390.00,315.13 L390.50,315.15 L391.00,315.16 L391.50,315.17 L392.00,315.19 L392.50,315.20 L393.00,315.21 L393.50,315.23 L394.00,315.24 L394.50,315.25 L395.00,315.26 L395.50,315.27 L396.00,315.28 L396.50,315.29 L397.00,315.29 L397.50,315.30 L398.00,315.31 L398.50,315.32 L399.00,315.32 L399.50,315.33 L400.00,315.34 L400.50,315.34 L401.00,315.35 L401.50,315.36 L402.00,315.37 L402.50,315.37 L403.00,315.38 L403.50,315.39 L404.00,315.39 L404.50,315.40 L405.00,315.40 L405.50,315.41 L406.00,315.42 L406.50,315.42 L407.00,315.43 L407.50,315.44 L408.00,315.44 L408.50,315.45 L409.00,315.45 L409.50,315.46 L410.00,315.47 L410.50,315.47 L411.00,315.48 L411.50,315.48 L412.00,315.49 L412.50,315.50 L413.00,315.50 L413.50,315.51 L414.00,315.51 L414.50,315.52 L415.00,315.53 L415.50,315.53 L416.00,315.54 L416.50,315.54 L417.00,315.55 L417.50,315.56 L418.00,315.56 L418.50,315.57 L419.00,315.57 L419.50,315.58 L420.00,315.58 L420.50,315.59 L421.00,315.60 L421.50,315.60 L422.00,315.61 L422.50,315.61 L423.00,315.62 L423.50,315.63 L424.00,315.63 L424.50,315.64 L425.00,315.64 L425.50,315.65 L426.00,315.65 L426.50,315.66 L427.00,315.67 L427.50,315.67 L428.00,315.68 L428.50,315.68 L429.00,315.69 L429.50,315.69 L430.00,315.70 L430.50,315.70 L431.00,315.70 L431.50,315.70 L432.00,315.70 L432.50,315.71 L433.00,315.71 L433.50,315.71 L434.00,315.71 L434.50,315.71 L435.00,315.71 L435.50,315.71 L436.00,315.71 L436.50,315.72 L437.00,315.72 L437.50,315.72 L438.00,315.72 L438.50,315.72 L439.00,315.72 L439.50,315.72 L440.00,315.72 L440.50,315.73 L441.00,315.73 L441.50,315.73 L442.00,315.73 L442.50,315.73 L443.00,315.73 L443.50,315.73 L444.00,315.73 L444.50,315.74 L445.00,315.74 L445.50,315.74 L446.00,315.74 L446.50,315.74 L447.00,315.74 L447.50,315.74 L448.00,315.74 L448.50,315.75 L449.00,315.75 L449.50,315.75 L450.00,315.75 L450.50,315.75 L451.00,315.75 L451.50,315.75 L452.00,315.75 L452.50,315.76 L453.00,315.76 L453.50,315.76 L454.00,315.76 L454.50,315.76 L455.00,315.76 L455.50,315.76 L456.00,315.76 L456.50,315.77 L457.00,315.77 L457.50,315.77 L458.00,315.77 L458.50,315.77 L459.00,315.77 L459.50,315.77 L460.00,315.77 L460.50,315.78 L461.00,315.78 L461.50,315.78 L462.00,315.78 L462.50,315.78 L463.00,315.78 L463.50,315.78 L464.00,315.78 L464.50,315.79 L465.00,315.79 L465.50,315.79 L466.00,315.79" stroke="#1010c8"/>
<path d="M63.00,316.35 L63.50,316.35 L64.00,316.35 L64.50,316.35 L65.00,316.35 L65.50,316.35 L66.00,316.35 L66.50,316.35 L67.00,316.35 L67.50,316.35 L68.00,316.35 L68.50,316.35 L69.00,316.35 L69.50,316.35 L70.00,316.35 L70.50,316.35 L71.00,316.35 L71.50,316.35 L72.00,316.35 L72.50,316.35 L73.00,316.35 L73.50,316.35 L74.00,316.35 L74.50,316.35 L75.00,316.35 L75.50,316.35 L76.00,316.35 L76.50,316.35 L77.00,316.35 L77.50,316.35 L78.00,316.35 L78.50,316.35 L79.00,316.35 L79.50,316.35 L80.00,316.35 L80.50,316.35 L81.00,316.35 L81.50,316.35 L82.00,316.35 L82.50,316.35 L83.00,316.35 L83.50,316.35 L84.00,316.35 L84.50,316.35 L85.00,316.35 L85.50,316.35 L86.00,316.35 L86.50,316.35 L87.00,316.35 L87.50,316.35 L88.00,316.35 L88.50,316.35 L89.00,316.35 L89.50,316.35 L90.00,316.35 L90.50,316.35 L91.00,316.35 L91.50,316.35 L92.00,316.35 L92.50,316.35 L93.00,316.35 L93.50,316.35 L94.00,316.35 L94.50,316.35 L95.00,316.35 L95.50,316.35 L96.00,316.35 L96.50,316.35 L97.00,316.35 L97.50,316.35 L98.00,316.35 L98.50,316.35 L99.00,316.35 L99.50,316.35 L100.00,316.35 L100.50,316.35 L101.00,316.35 L101.50,316.35 L102.00,316.35 L102.50,316.35 L103.00,316.35 L103.50,316.35 L104.00,316.35 L104.50,316.35 L105.00,316.35 L105.50,316.35 L106.00,316.35 L106.50,316.35 L107.00,316.35 L107.50,316.35 L108.00,316.35 L108.50,316.35 L109.00,316.35 L109.50,316.35 L110.00,316.35 L110.50,316.35 L111.00,316.35 L111.50,316.35 L112.00,316.35 L112.50,316.35 L113.00,316.35 L113.50,316.35 L114.00,316.35 L114.50,316.35 L115.00,316.35 L115.50,316.35 L116.00,316.35 L116.50,316.35 L117.00,316.35 L117.50,316.35 L118.00,316.35 L118.50,316.35 L119.00,316.35 L119.50,316.35 L120.00,316.35 L120.50,316.35 L121.00,316.35 L121.50,316.35 L122.00,316.35 L122.50,316.35 L123.00,316.35 L123.50,316.35 L124.00,316.35 L124.50,316.35 L125.00,316.35 L125.50,316.35 L126.00,316.35 L126.50,316.35 L127.00,316.35 L127.50,316.35 L128.00,316.35 L128.50,316.35 L129.00,316.35 L129.50,316.35 L130.00,316.35 L130.50,316.35 L131.00,316.35 L131.50,316.35 L132.00,316.35 L132.50,316.35 L133.00,316.35 L133.50,316.35 L134.00,316.35 L134.50,316.35 L135.00,316.35 L135.50,316.35 L136.00,316.35 L136.50,316.35 L137.00,316.34 L137.50,316.34 L138.00,316.34 L138.50,316.34 L139.00,316.34 L139.50,316.34 L140.00,316.34 L140.50,316.34 L141.00,316.34 L141.50,316.34 L142.00,316.34 L142.50,316.34 L143.00,316.34 L143.50,316.34 L144.00,316.34 L144.50,316.34 L145.00,316.34 L145.50,316.34 L146.00,316.34 L146.50,316.34 L147.00,316.34 L147.50,316.34 L148.00,316.34 L148.50,316.33 L149.00,316.33 L149.50,316.33 L150.00,316.33 L150.50,316.33 L151.00,316.33 L151.50,316.33 L152.00,316.33 L152.50,316.33 L153.00,316.33 L153.50,316.33 L154.00,316.33 L154.50,316.33 L155.00,316.33 L155.50,316.32 L156.00,316.32 L156.50,316.32 L157.00,316.32 L157.50,316.32 L158.00,316.32 L158.50,316.32 L159.00,316.32 L159.50,316.32 L160.00,316.32 L160.50,316.32 L161.00,316.32 L161.50,316.31 L162.00,316.31 L162.50,316.31 L163.00,316.31 L163.50,316.31 L164.00,316.31 L164.50,316.31 L165.00,316.31 L165.50,316.31 L166.00,316.30 L166.50,316.30 L167.00,316.30 L167.50,316.30 L168.00,316.30 L168.50,316.30 L169.00,316.30 L169.50,316.30 L170.00,316.30 L170.50,316.29 L171.00,316.29 L171.50,316.29 L172.00,316.29 L172.50,316.29 L173.00,316.29 L173.50,316.29 L174.00,316.28 L174.50,316.28 L175.00,316.28 L175.50,316.28 L176.00,316.28 L176.50,316.28 L177.00,316.28 L177.50,316.27 L178.00,316.27 L178.50,316.27 L179.00,316.27 L179.50,316.27 L180.00,316.27 L180.50,316.27 L181.00,316.26 L181.50,316.26 L182.00,316.26 L182.50,316.26 L183.00,316.26 L183.50,316.26 L184.00,316.25 L184.50,316.25 L185.00,316.25 L185.50,316.25 L186.00,316.24 L186.50,316.23 L187.00,316.23 L187.50,316.21 L188.00,316.20 L188.50,316.19 L189.00,316.17 L189.50,316.15 L190.00,316.14 L190.50,316.12 L191.00,316.10 L191.50,316.08 L192.00,316.06 L192.50,316.04 L193.00,316.02 L193.50,316.00 L194.00,315.98 L194.50,315.96 L195.00,315.94 L195.50,315.92 L196.00,315.90 L196.50,315.88 L197.00,315.87 L197.50,315.85 L198.00,315.84 L198.50,315.83 L199.00,315.81 L199.50,315.81 L200.00,315.80 L200.50,315.79 L201.00,315.79 L201.50,315.79 L202.00,315.78 L202.50,315.78 L203.00,315.77 L203.50,315.77 L204.00,315.77 L204.50,315.77 L205.00,315.76 L205.50,315.76 L206.00,315.76 L206.50,315.76 L207.00,315.75 L207.50,315.75 L208.00,315.75 L208.50,315.75 L209.00,315.75 L209.50,315.74 L210.00,315.74 L210.50,315.74 L211.00,315.74 L211.50,315.73 L212.00,315.73 L212.50,315.73 L213.00,315.72 L213.50,315.72 L214.00,315.71 L214.50,315.71 L215.00,315.70 L215.50,315.70 L216.00,315.69 L216.50,315.68 L217.00,315.67 L217.50,315.66 L218.00,315.64 L218.50,315.62 L219.00,315.60 L219.50,315.58 L220.00,315.56 L220.50,315.54 L221.00,315.51 L221.50,315.48 L222.00,315.46 L222.50,315.43 L223.00,315.40 L223.50,315.37 L224.00,315.34 L224.50,315.31 L225.00,315.27 L225.50,315.24 L226.00,315.21 L226.50,315.18 L227.00,315.14 L227.50,315.11 L228.00,315.08 L228.50,315.04 L229.00,315.01 L229.50,314.98 L230.00,314.95 L230.50,314.92 L231.00,314.89 L231.50,314.86 L232.00,314.83 L232.50,314.79 L233.00,314.76 L233.50,314.73 L234.00,314.70 L234.50,314.66 L235.00,314.63 L235.50,314.59 L236.00,314.56 L236.50,314.52 L237.00,314.49 L237.50,314.45 L238.00,314.41 L238.50,314.38 L239.00,314.34 L239.50,314.30 L240.00,314.27 L240.50,314.23 L241.00,314.19 L241.50,314.15 L242.00,314.12 L242.50,314.08 L243.00,314.04 L243.50,314.00 L244.00,313.97 L244.50,313.93 L245.00,313.89 L245.50,313.85 L246.00,313.81 L246.50,313.78 L247.00,313.74 L247.50,313.70 L248.00,313.66 L248.50,313.63 L249.00,313.59 L249.50,313.55 L250.00,313.51 L250.50,313.47 L251.00,313.43 L251.50,313.40 L252.00,313.36 L252.50,313.32 L253.00,313.28 L253.50,313.24 L254.00,313.20 L254.50,313.16 L255.00,313.12 L255.50,313.08 L256.00,313.04 L256.50,313.00 L257.00,312.96 L257.50,312.92 L258.00,312.88 L258.50,312.84 L259.00,312.80 L259.50,312.76 L260.00,312.72 L260.50,312.68 L261.00,312.64 L261.50,312.60 L262.00,312.56 L262.50,312.52 L263.00,312.48 L263.50,312.43 L264.00,312.39 L264.50,312.35 L265.00,312.30 L265.50,312.26 L266.00,312.21 L266.50,312.17 L267.00,312.13 L267.50,312.09 L268.00,312.05 L268.50,312.01 L269.00,311.97 L269.50,311.93 L270.00,311.90 L270.50,311.87 L271.00,311.84 L271.50,311.81 L272.00,311.78 L272.50,311.75 L273.00,311.72 L273.50,311.69 L274.00,311.67 L274.50,311.64 L275.00,311.61 L275.50,311.58 L276.00,311.56 L276.50,311.53 L277.00,311.49 L277.50,311.46 L278.00,311.43 L278.50,311.39 L279.00,311.36 L279.50,311.32 L280.00,311.28 L280.50,311.25 L281.00,311.21 L281.50,311.17 L282.00,311.13 L282.50,311.09 L283.00,311.05 L283.50,311.01 L284.00,310.97 L284.50,310.94 L285.00,310.90 L285.50,310.86 L286.00,310.82 L286.50,310.79 L287.00,310.75 L287.50,310.71 L288.00,310.68 L288.50,310.65 L289.00,310.61 L289.50,310.58 L290.00,310.55 L290.50,310.52 L291.00,310.49 L291.50,310.46 L292.00,310.43 L292.50,310.40 L293.00,310.37 L293.50,310.34 L294.00,310.31 L294.50,310.28 L295.00,310.25 L295.50,310.22 L296.00,310.20 L296.50,310.17 L297.00,310.14 L297.50,310.12 L298.00,310.09 L298.50,310.07 L299.00,310.04 L299.50,310.02 L300.00,310.00 L300.50,309.98 L301.00,309.96 L301.50,309.93 L302.00,309.91 L302.50,309.88 L303.00,309.86 L303.50,309.84 L304.00,309.82 L304.50,309.79 L305.00,309.77 L305.50,309.76 L306.00,309.74 L306.50,309.73 L307.00,309.72 L307.50,309.71 L308.00,309.70 L308.50,309.70 L309.00,309.70 L309.50,309.70 L310.00,309.70 L310.50,309.70 L311.00,309.71 L311.50,309.71 L312.00,309.71 L312.50,309.72 L313.00,309.72 L313.50,309.72 L314.00,309.73 L314.50,309.73 L315.00,309.74 L315.50,309.74 L316.00,309.75 L316.50,309.76 L317.00,309.76 L317.50,309.77 L318.00,309.77 L318.50,309.78 L319.00,309.79 L319.50,309.79 L320.00,309.80 L320.50,309.81 L321.00,309.82 L321.50,309.83 L322.00,309.84 L322.50,309.85 L323.00,309.86 L323.50,309.88 L324.00,309.89 L324.50,309.90 L325.00,309.92 L325.50,309.93 L326.00,309.95 L326.50,309.97 L327.00,309.98 L327.50,309.99 L328.00,310.01 L328.50,310.02 L329.00,310.04 L329.50,310.05 L330.00,310.07 L330.50,310.08 L331.00,310.10 L331.50,310.11 L332.00,310.13 L332.50,310.14 L333.00,310.16 L333.50,310.17 L334.00,310.19 L334.50,310.20 L335.00,310.22 L335.50,310.23 L336.00,310.25 L336.50,310.27 L337.00,310.28 L337.50,310.30 L338.00,310.31 L338.50,310.33 L339.00,310.35 L339.50,310.36 L340.00,310.38 L340.50,310.40 L341.00,310.41 L341.50,310.43 L342.00,310.44 L342.50,310.46 L343.00,310.48 L343.50,310.49 L344.00,310.51 L344.50,310.52 L345.00,310.54 L345.50,310.56 L346.00,310.57 L346.50,310.59 L347.00,310.60 L347.50,310.62 L348.00,310.64 L348.50,310.65 L349.00,310.67 L349.50,310.68 L350.00,310.70 L350.50,310.72 L351.00,310.74 L351.50,310.75 L352.00,310.77 L352.50,310.79 L353.00,310.81 L353.50,310.82 L354.00,310.84 L354.50,310.86 L355.00,310.88 L355.50,310.89 L356.00,310.91 L356.50,310.93 L357.00,310.95 L357.50,310.96 L358.00,310.98 L358.50,311.00 L359.00,311.01 L359.50,311.03 L360.00,311.04 L360.50,311.06 L361.00,311.07 L361.50,311.09 L362.00,311.10 L362.50,311.12 L363.00,311.13 L363.50,311.14 L364.00,311.15 L364.50,311.16 L365.00,311.18 L365.50,311.19 L366.00,311.20 L366.50,311.21 L367.00,311.21 L367.50,311.22 L368.00,311.23 L368.50,311.24 L369.00,311.25 L369.50,311.25 L370.00,311.26 L370.50,311.27 L371.00,311.27 L371.50,311.28 L372.00,311.29 L372.50,311.29 L373.00,311.30 L373.50,311.31 L374.00,311.31 L374.50,311.32 L375.00,311.32 L375.50,311.33 L376.00,311.33 L376.50,311.34 L377.00,311.34 L377.50,311.35 L378.00,311.35 L378.50,311.36 L379.00,311.36 L379.50,311.37 L380.00,311.37 L380.50,311.38 L381.00,311.38 L381.50,311.39 L382.00,311.40 L382.50,311.40 L383.00,311.41 L383.50,311.41 L384.00,311.42 L384.50,311.43 L385.00,311.43 L385.50,311.44 L386.00,311.45 L386.50,311.45 L387.00,311.46 L387.50,311.47 L388.00,311.48 L388.50,311.49 L389.00,311.50 L389.50,311.51 L390.00,311.52 L390.50,311.53 L391.00,311.54 L391.50,311.55 L392.00,311.56 L392.50,311.57 L393.00,311.59 L393.50,311.60 L394.00,311.62 L394.50,311.63 L395.00,311.64 L395.50,311.66 L396.00,311.68 L396.50,311.69 L397.00,311.71 L397.50,311.72 L398.00,311.74 L398.50,311.76 L399.00,311.77 L399.50,311.79 L400.00,311.81 L400.50,311.83 L401.00,311.84 L401.50,311.86 L402.00,311.88 L402.50,311.90 L403.00,311.91 L403.50,311.93 L404.00,311.95 L404.50,311.97 L405.00,311.98 L405.50,312.00 L406.00,312.02 L406.50,312.04 L407.00,312.05 L407.50,312.07 L408.00,312.08 L408.50,312.10 L409.00,312.12 L409.50,312.13 L410.00,312.15 L410.50,312.16 L411.00,312.18 L411.50,312.20 L412.00,312.21 L412.50,312.23 L413.00,312.25 L413.50,312.26 L414.00,312.28 L414.50,312.30 L415.00,312.31 L415.50,312.33 L416.00,312.35 L416.50,312.36 L417.00,312.38 L417.50,312.40 L418.00,312.41 L418.50,312.43 L419.00,312.44 L419.50,312.46 L420.00,312.48 L420.50,312.49 L421.00,312.51 L421.50,312.52 L422.00,312.54 L422.50,312.55 L423.00,312.57 L423.50,312.58 L424.00,312.60 L424.50,312.61 L425.00,312.63 L425.50,312.64 L426.00,312.66 L426.50,312.67 L427.00,312.68 L427.50,312.69 L428.00,312.71 L428.50,312.72 L429.00,312.73 L429.50,312.75 L430.00,312.76 L430.50,312.77 L431.00,312.78 L431.50,312.80 L432.00,312.81 L432.50,312.82 L433.00,312.84 L433.50,312.85 L434.00,312.86 L434.50,312.87 L435.00,312.89 L435.50,312.90 L436.00,312.91 L436.50,312.92 L437.00,312.93 L437.50,312.94 L438.00,312.96 L438.50,312.97 L439.00,312.98 L439.50,312.99 L440.00,313.00 L440.50,313.01 L441.00,313.02 L441.50,313.03 L442.00,313.04 L442.50,313.04 L443.00,313.05 L443.50,313.06 L444.00,313.07 L444.50,313.07 L445.00,313.08 L445.50,313.09 L446.00,313.09 L446.50,313.10 L447.00,313.10 L447.50,313.10 L448.00,313.11 L448.50,313.11 L449.00,313.12 L449.50,313.12 L450.00,313.12 L450.50,313.13 L451.00,313.13 L451.50,313.14 L452.00,313.14 L452.50,313.14 L453.00,313.15 L453.50,313.15 L454.00,313.15 L454.50,313.16 L455.00,313.16 L455.50,313.16 L456.00,313.17 L456.50,313.17 L457.00,313.17 L457.50,313.17 L458.00,313.18 L458.50,313.18 L459.00,313.18 L459.50,313.18 L460.00,313.19 L460.50,313.19 L461.00,313.19 L461.50,313.19 L462.00,313.19 L462.50,313.19 L463.00,313.20 L463.50,313.20 L464.00,313.20 L464.50,313.20 L465.00,313.20 L465.50,313.20 L466.00,313.20" stroke="#e010e0" stroke-dasharray="3.6 3.2 1.3 3.4"/>
<path d="M63.00,120.10 L63.50,120.24 L64.00,120.40 L64.50,120.55 L65.00,120.72 L65.50,120.89 L66.00,121.07 L66.50,121.26 L67.00,121.45 L67.50,121.65 L68.00,121.85 L68.50,122.06 L69.00,122.27 L69.50,122.49 L70.00,122.71 L70.50,122.94 L71.00,123.17 L71.50,123.40 L72.00,123.64 L72.50,123.88 L73.00,124.13 L73.50,124.38 L74.00,124.63 L74.50,124.88 L75.00,125.14 L75.50,125.40 L76.00,125.66 L76.50,125.92 L77.00,126.19 L77.50,126.46 L78.00,126.72 L78.50,126.99 L79.00,127.26 L79.50,127.53 L80.00,127.80 L80.50,128.07 L81.00,128.34 L81.50,128.61 L82.00,128.88 L82.50,129.14 L83.00,129.41 L83.50,129.68 L84.00,129.94 L84.50,130.20 L85.00,130.46 L85.50,130.72 L86.00,130.98 L86.50,131.23 L87.00,131.48 L87.50,131.73 L88.00,131.98 L88.50,132.22 L89.00,132.46 L89.50,132.69 L90.00,132.92 L90.50,133.15 L91.00,133.37 L91.50,133.59 L92.00,133.81 L92.50,134.03 L93.00,134.24 L93.50,134.45 L94.00,134.66 L94.50,134.87 L95.00,135.07 L95.50,135.27 L96.00,135.47 L96.50,135.67 L97.00,135.87 L97.50,136.07 L98.00,136.26 L98.50,136.45 L99.00,136.64 L99.50,136.83 L100.00,137.02 L100.50,137.21 L101.00,137.40 L101.50,137.59 L102.00,137.78 L102.50,137.96 L103.00,138.15 L103.50,138.34 L104.00,138.52 L104.50,138.71 L105.00,138.90 L105.50,139.08 L106.00,139.27 L106.50,139.46 L107.00,139.65 L107.50,139.84 L108.00,140.03 L108.50,140.23 L109.00,140.42 L109.50,140.61 L110.00,140.81 L110.50,141.00 L111.00,141.20 L111.50,141.39 L112.00,141.59 L112.50,141.79 L113.00,141.98 L113.50,142.18 L114.00,142.37 L114.50,142.57 L115.00,142.76 L115.50,142.96 L116.00,143.15 L116.50,143.34 L117.00,143.53 L117.50,143.72 L118.00,143.91 L118.50,144.10 L119.00,144.29 L119.50,144.47 L120.00,144.65 L120.50,144.83 L121.00,145.01 L121.50,145.19 L122.00,145.37 L122.50,145.54 L123.00,145.71 L123.50,145.88 L124.00,146.05 L124.50,146.21 L125.00,146.37 L125.50,146.53 L126.00,146.68 L126.50,146.84 L127.00,146.98 L127.50,147.13 L128.00,147.27 L128.50,147.41 L129.00,147.55 L129.50,147.68 L130.00,147.80 L130.50,147.93 L131.00,148.05 L131.50,148.16 L132.00,148.27 L132.50,148.38 L133.00,148.48 L133.50,148.58 L134.00,148.68 L134.50,148.78 L135.00,148.88 L135.50,148.97 L136.00,149.07 L136.50,149.16 L137.00,149.26 L137.50,149.36 L138.00,149.46 L138.50,149.56 L139.00,149.66 L139.50,149.77 L140.00,149.88 L140.50,149.99 L141.00,150.10 L141.50,150.22 L142.00,150.34 L142.50,150.47 L143.00,150.60 L143.50,150.73 L144.00,150.86 L144.50,151.00 L145.00,151.14 L145.50,151.28 L146.00,151.42 L146.50,151.57 L147.00,151.72 L147.50,151.87 L148.00,152.02 L148.50,152.17 L149.00,152.33 L149.50,152.49 L150.00,152.64 L150.50,152.80 L151.00,152.96 L151.50,153.12 L152.00,153.29 L152.50,153.45 L153.00,153.61 L153.50,153.78 L154.00,153.94 L154.50,154.11 L155.00,154.27 L155.50,154.44 L156.00,154.61 L156.50,154.77 L157.00,154.94 L157.50,155.11 L158.00,155.28 L158.50,155.44 L159.00,155.61 L159.50,155.78 L160.00,155.95 L160.50,156.12 L161.00,156.29 L161.50,156.46 L162.00,156.62 L162.50,156.79 L163.00,156.96 L163.50,157.13 L164.00,157.29 L164.50,157.46 L165.00,157.63 L165.50,157.79 L166.00,157.96 L166.50,158.12 L167.00,158.28 L167.50,158.45 L168.00,158.61 L168.50,158.77 L169.00,158.93 L169.50,159.09 L170.00,159.25 L170.50,159.40 L171.00,159.56 L171.50,159.71 L172.00,159.87 L172.50,160.02 L173.00,160.17 L173.50,160.32 L174.00,160.47 L174.50,160.61 L175.00,160.76 L175.50,160.90 L176.00,161.04 L176.50,161.18 L177.00,161.32 L177.50,161.46 L178.00,161.59 L178.50,161.72 L179.00,161.86 L179.50,161.99 L180.00,162.12 L180.50,162.24 L181.00,162.37 L181.50,162.50 L182.00,162.63 L182.50,162.75 L183.00,162.87 L183.50,163.00 L184.00,163.12 L184.50,163.24 L185.00,163.37 L185.50,163.49 L186.00,163.61 L186.50,163.73 L187.00,163.85 L187.50,163.98 L188.00,164.10 L188.50,164.22 L189.00,164.34 L189.50,164.46 L190.00,164.59 L190.50,164.71 L191.00,164.83 L191.50,164.96 L192.00,165.08 L192.50,165.21 L193.00,165.33 L193.50,165.46 L194.00,165.59 L194.50,165.72 L195.00,165.85 L195.50,165.98 L196.00,166.12 L196.50,166.25 L197.00,166.39 L197.50,166.52 L198.00,166.66 L198.50,166.80 L199.00,166.95 L199.50,167.09 L200.00,167.24 L200.50,167.38 L201.00,167.53 L201.50,167.68 L202.00,167.84 L202.50,167.99 L203.00,168.15 L203.50,168.31 L204.00,168.47 L204.50,168.63 L205.00,168.80 L205.50,168.96 L206.00,169.13 L206.50,169.30 L207.00,169.47 L207.50,169.65 L208.00,169.83 L208.50,170.00 L209.00,170.18 L209.50,170.37 L210.00,170.55 L210.50,170.74 L211.00,170.93 L211.50,171.12 L212.00,171.32 L212.50,171.51 L213.00,171.71 L213.50,171.91 L214.00,172.11 L214.50,172.31 L215.00,172.51 L215.50,172.72 L216.00,172.92 L216.50,173.13 L217.00,173.33 L217.50,173.53 L218.00,173.74 L218.50,173.94 L219.00,174.15 L219.50,174.35 L220.00,174.55 L220.50,174.75 L221.00,174.95 L221.50,175.15 L222.00,175.34 L222.50,175.53 L223.00,175.72 L223.50,175.91 L224.00,176.10 L224.50,176.28 L225.00,176.46 L225.50,176.63 L226.00,176.81 L226.50,176.98 L227.00,177.15 L227.50,177.31 L228.00,177.47 L228.50,177.63 L229.00,177.79 L229.50,177.94 L230.00,178.10 L230.50,178.24 L231.00,178.39 L231.50,178.53 L232.00,178.67 L232.50,178.81 L233.00,178.95 L233.50,179.08 L234.00,179.21 L234.50,179.34 L235.00,179.47 L235.50,179.59 L236.00,179.72 L236.50,179.84 L237.00,179.95 L237.50,180.07 L238.00,180.18 L238.50,180.29 L239.00,180.40 L239.50,180.51 L240.00,180.61 L240.50,180.71 L241.00,180.81 L241.50,180.91 L242.00,181.01 L242.50,181.10 L243.00,181.19 L243.50,181.28 L244.00,181.37 L244.50,181.46 L245.00,181.54 L245.50,181.62 L246.00,181.71 L246.50,181.79 L247.00,181.86 L247.50,181.94 L248.00,182.01 L248.50,182.09 L249.00,182.16 L249.50,182.23 L250.00,182.29 L250.50,182.36 L251.00,182.42 L251.50,182.49 L252.00,182.55 L252.50,182.61 L253.00,182.67 L253.50,182.73 L254.00,182.78 L254.50,182.84 L255.00,182.89 L255.50,182.95 L256.00,183.00 L256.50,183.05 L257.00,183.10 L257.50,183.14 L258.00,183.19 L258.50,183.24 L259.00,183.28 L259.50,183.32 L260.00,183.37 L260.50,183.41 L261.00,183.45 L261.50,183.48 L262.00,183.52 L262.50,183.56 L263.00,183.59 L263.50,183.62 L264.00,183.65 L264.50,183.68 L265.00,183.71 L265.50,183.74 L266.00,183.76 L266.50,183.78 L267.00,183.81 L267.50,183.82 L268.00,183.84 L268.50,183.86 L269.00,183.87 L269.50,183.88 L270.00,183.89 L270.50,183.90 L271.00,183.90 L271.50,183.91 L272.00,183.91 L272.50,183.91 L273.00,183.92 L273.50,183.92 L274.00,183.93 L274.50,183.94 L275.00,183.96 L275.50,183.99 L276.00,184.02 L276.50,184.07 L277.00,184.12 L277.50,184.18 L278.00,184.25 L278.50,184.32 L279.00,184.40 L279.50,184.49 L280.00,184.58 L280.50,184.68 L281.00,184.79 L281.50,184.89 L282.00,185.00 L282.50,185.12 L283.00,185.23 L283.50,185.35 L284.00,185.47 L284.50,185.58 L285.00,185.70 L285.50,185.82 L286.00,185.93 L286.50,186.05 L287.00,186.16 L287.50,186.27 L288.00,186.37 L288.50,186.47 L289.00,186.57 L289.50,186.66 L290.00,186.74 L290.50,186.82 L291.00,186.89 L291.50,186.96 L292.00,187.01 L292.50,187.06 L293.00,187.11 L293.50,187.14 L294.00,187.18 L294.50,187.20 L295.00,187.23 L295.50,187.25 L296.00,187.26 L296.50,187.27 L297.00,187.28 L297.50,187.29 L298.00,187.29 L298.50,187.29 L299.00,187.30 L299.50,187.30 L300.00,187.30 L300.50,187.30 L301.00,187.30 L301.50,187.31 L302.00,187.31 L302.50,187.32 L303.00,187.33 L303.50,187.34 L304.00,187.35 L304.50,187.37 L305.00,187.39 L305.50,187.42 L306.00,187.44 L306.50,187.48 L307.00,187.51 L307.50,187.56 L308.00,187.60 L308.50,187.65 L309.00,187.71 L309.50,187.77 L310.00,187.84 L310.50,187.91 L311.00,187.99 L311.50,188.08 L312.00,188.17 L312.50,188.27 L313.00,188.38 L313.50,188.49 L314.00,188.61 L314.50,188.73 L315.00,188.86 L315.50,188.99 L316.00,189.13 L316.50,189.27 L317.00,189.42 L317.50,189.57 L318.00,189.73 L318.50,189.88 L319.00,190.05 L319.50,190.21 L320.00,190.38 L320.50,190.55 L321.00,190.72 L321.50,190.90 L322.00,191.08 L322.50,191.25 L323.00,191.43 L323.50,191.62 L324.00,191.80 L324.50,191.98 L325.00,192.17 L325.50,192.35 L326.00,192.53 L326.50,192.72 L327.00,192.90 L327.50,193.08 L328.00,193.26 L328.50,193.45 L329.00,193.62 L329.50,193.80 L330.00,193.98 L330.50,194.15 L331.00,194.32 L331.50,194.49 L332.00,194.65 L332.50,194.82 L333.00,194.98 L333.50,195.13 L334.00,195.28 L334.50,195.43 L335.00,195.57 L335.50,195.71 L336.00,195.85 L336.50,195.98 L337.00,196.10 L337.50,196.22 L338.00,196.33 L338.50,196.44 L339.00,196.54 L339.50,196.63 L340.00,196.72 L340.50,196.80 L341.00,196.88 L341.50,196.95 L342.00,197.02 L342.50,197.09 L343.00,197.15 L343.50,197.20 L344.00,197.26 L344.50,197.31 L345.00,197.35 L345.50,197.40 L346.00,197.44 L346.50,197.48 L347.00,197.52 L347.50,197.55 L348.00,197.59 L348.50,197.62 L349.00,197.65 L349.50,197.68 L350.00,197.72 L350.50,197.75 L351.00,197.78 L351.50,197.81 L352.00,197.84 L352.50,197.88 L353.00,197.91 L353.50,197.95 L354.00,197.99 L354.50,198.03 L355.00,198.08 L355.50,198.12 L356.00,198.17 L356.50,198.22 L357.00,198.28 L357.50,198.34 L358.00,198.40 L358.50,198.47 L359.00,198.54 L359.50,198.62 L360.00,198.70 L360.50,198.79 L361.00,198.88 L361.50,198.98 L362.00,199.08 L362.50,199.20 L363.00,199.31 L363.50,199.44 L364.00,199.57 L364.50,199.70 L365.00,199.84 L365.50,199.98 L366.00,200.12 L366.50,200.27 L367.00,200.42 L367.50,200.58 L368.00,200.73 L368.50,200.89 L369.00,201.05 L369.50,201.21 L370.00,201.37 L370.50,201.54 L371.00,201.70 L371.50,201.86 L372.00,202.02 L372.50,202.18 L373.00,202.33 L373.50,202.49 L374.00,202.64 L374.50,202.79 L375.00,202.93 L375.50,203.08 L376.00,203.21 L376.50,203.35 L377.00,203.48 L377.50,203.60 L378.00,203.72 L378.50,203.83 L379.00,203.94 L379.50,204.04 L380.00,204.14 L380.50,204.23 L381.00,204.32 L381.50,204.40 L382.00,204.48 L382.50,204.55 L383.00,204.63 L383.50,204.70 L384.00,204.76 L384.50,204.82 L385.00,204.89 L385.50,204.94 L386.00,205.00 L386.50,205.05 L387.00,205.11 L387.50,205.16 L388.00,205.21 L388.50,205.26 L389.00,205.31 L389.50,205.36 L390.00,205.40 L390.50,205.45 L391.00,205.50 L391.50,205.55 L392.00,205.60 L392.50,205.65 L393.00,205.70 L393.50,205.75 L394.00,205.81 L394.50,205.87 L395.00,205.92 L395.50,205.98 L396.00,206.05 L396.50,206.11 L397.00,206.18 L397.50,206.24 L398.00,206.31 L398.50,206.38 L399.00,206.46 L399.50,206.53 L400.00,206.61 L400.50,206.68 L401.00,206.76 L401.50,206.84 L402.00,206.92 L402.50,207.00 L403.00,207.08 L403.50,207.17 L404.00,207.25 L404.50,207.34 L405.00,207.43 L405.50,207.52 L406.00,207.60 L406.50,207.69 L407.00,207.79 L407.50,207.88 L408.00,207.97 L408.50,208.06 L409.00,208.16 L409.50,208.25 L410.00,208.35 L410.50,208.44 L411.00,208.54 L411.50,208.63 L412.00,208.73 L412.50,208.83 L413.00,208.93 L413.50,209.02 L414.00,209.12 L414.50,209.22 L415.00,209.32 L415.50,209.42 L416.00,209.52 L416.50,209.62 L417.00,209.71 L417.50,209.81 L418.00,209.91 L418.50,210.01 L419.00,210.11 L419.50,210.21 L420.00,210.30 L420.50,210.40 L421.00,210.50 L421.50,210.60 L422.00,210.69 L422.50,210.79 L423.00,210.89 L423.50,210.98 L424.00,211.08 L424.50,211.18 L425.00,211.27 L425.50,211.37 L426.00,211.47 L426.50,211.56 L427.00,211.66 L427.50,211.75 L428.00,211.85 L428.50,211.94 L429.00,212.04 L429.50,212.13 L430.00,212.22 L430.50,212.32 L431.00,212.41 L431.50,212.50 L432.00,212.60 L432.50,212.69 L433.00,212.78 L433.50,212.87 L434.00,212.97 L434.50,213.06 L435.00,213.15 L435.50,213.24 L436.00,213.33 L436.50,213.42 L437.00,213.51 L437.50,213.60 L438.00,213.69 L438.50,213.78 L439.00,213.87 L439.50,213.96 L440.00,214.04 L440.50,214.13 L441.00,214.22 L441.50,214.30 L442.00,214.39 L442.50,214.48 L443.00,214.56 L443.50,214.65 L444.00,214.73 L444.50,214.82 L445.00,214.90 L445.50,214.98 L446.00,215.07 L446.50,215.15 L447.00,215.23 L447.50,215.31 L448.00,215.39 L448.50,215.48 L449.00,215.56 L449.50,215.64 L450.00,215.72 L450.50,215.79 L451.00,215.87 L451.50,215.95 L452.00,216.03 L452.50,216.11 L453.00,216.18 L453.50,216.26 L454.00,216.33 L454.50,216.41 L455.00,216.48 L455.50,216.56 L456.00,216.63 L456.50,216.71 L457.00,216.78 L457.50,216.85 L458.00,216.92 L458.50,216.99 L459.00,217.06 L459.50,217.13 L460.00,217.20 L460.50,217.27 L461.00,217.34 L461.50,217.40 L462.00,217.47 L462.50,217.54 L463.00,217.60 L463.50,217.67 L464.00,217.73 L464.50,217.80 L465.00,217.86 L465.50,217.92 L466.00,217.98" stroke="#10e010" stroke-dasharray="5.4 2.4 1.2 2.6"/>
</g>
<rect x="324.1" y="12.8" width="194.6" height="103.2" fill="#fff" stroke="#000" stroke-width="1.3"/>
<circle cx="348.3" cy="22.9" r="2.2" fill="none" stroke="#000" stroke-width="1.7"/>
<g stroke-width="2" fill="none">
<path d="M331,43.6H366" stroke="#d81414" stroke-width="2.4"/>
<path d="M331,64.6H366" stroke="#1010c8"/>
<path d="M331,84.8H363" stroke="#e010e0" stroke-dasharray="3.6 3.2 1.3 3.4"/>
<path d="M331,105.6H364" stroke="#10e010" stroke-dasharray="5.4 2.4 1.2 2.6"/>
</g>
<g font-size="10.9" fill="#000" stroke="#000" stroke-width="0.75">
<text x="372.6" y="27.7">South Pole nToF scope data</text>
<text x="372.6" y="48.0">the overall fit to the data</text>
<text x="372.6" y="68.3">ballabio spectrum only</text>
<text x="372.6" y="88.7">scatter spectrum only</text>
<text x="372.6" y="109.1">background only</text>
</g>
</svg>
</body></html>
